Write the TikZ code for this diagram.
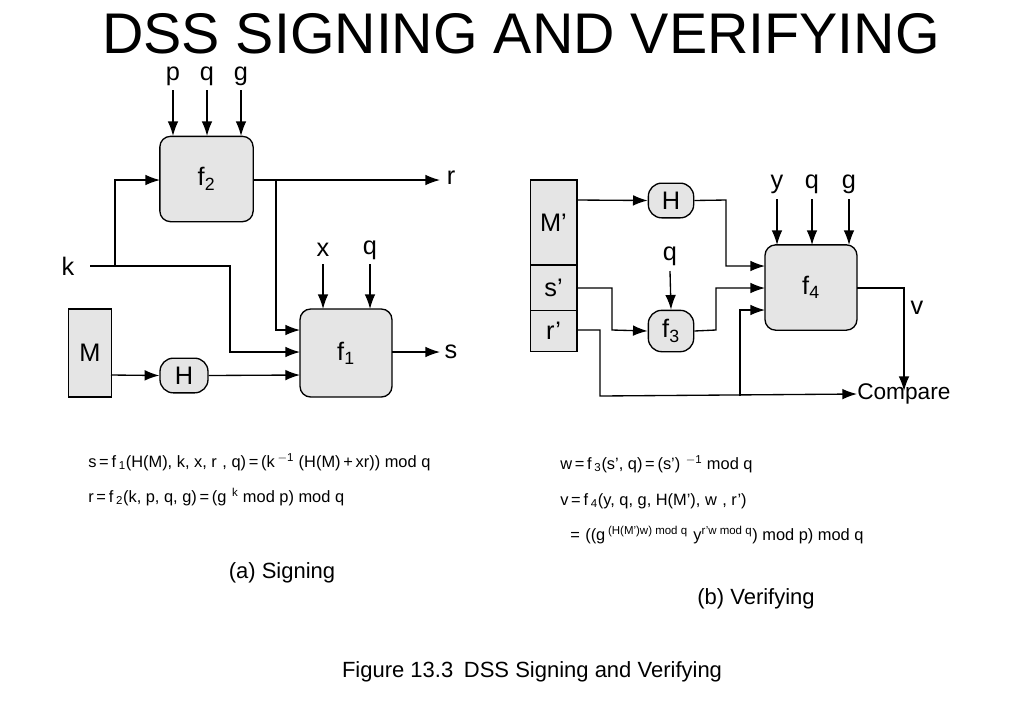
\documentclass[tikz,border=0pt]{standalone}
\usepackage{fontspec}
\setmainfont{Liberation Sans}
\usetikzlibrary{arrows.meta}
\newcommand{\sbx}[1]{\textsubscript{#1}}
\newcommand{\spx}[1]{\textsuperscript{#1}}
\begin{document}
\begin{tikzpicture}[x=0.75pt,y=-0.75pt,
  box/.style={draw,line width=1pt,fill=gray!20,rounded corners=8pt,minimum width=#1},
  sq/.style={draw,line width=1pt,fill=gray!20},
  lab/.style={font=\fontsize{19}{21}\selectfont,inner sep=0pt},
  frm/.style={font=\fontsize{12.3}{14}\selectfont,anchor=west,inner sep=0pt},
  captxt/.style={font=\fontsize{16.5}{18}\selectfont},
  ar/.style={line width=1pt,-{Latex[length=11pt,width=8pt]}},
  ln/.style={line width=1pt}]
\useasboundingbox (0,0) rectangle (1023,708);
\node[font=\fontsize{43}{46}\selectfont] (title) at (521,34) {DSS SIGNING AND VERIFYING};
% ---- signing
\node[box,minimum width=70pt,minimum height=64pt,lab] (f2) at (206.5,179) {f\sbx{2}};
\node[box,minimum width=69pt,minimum height=66pt,lab] (f1) at (346,353) {f\sbx{1}};
\node[sq,minimum width=32pt,minimum height=66pt,lab] (M) at (90,353) {M};
\node[box,rounded corners=10pt,minimum width=36pt,minimum height=26pt,lab] (H1) at (184,375.5) {H};
\foreach \n/\t/\x in {p/p/173,q/q/207,g/g/241}{
  \node[lab] (\n) at (\x,76) {\t};
  \draw[ar] (\x,90) -- (\x,136);}
\node[lab] (xx) at (323,250) {x};
\node[lab] (q2) at (370,250) {q};
\draw[ar] (323,264) -- (323,309);
\draw[ar] (370,264) -- (370,309);
\node[lab] (r) at (451,178) {r};
\node[lab] (s) at (451,352) {s};
\node[lab] (k) at (68,266) {k};
\draw[ar] (253,180) -- (440,180);
\draw[ar] (276,180) -- (276,330) -- (300,330);
\draw[ln] (90,266) -- (115,266);
\draw[ar] (115,266) -- (115,180) -- (160,180);
\draw[ar] (115,266) -- (230,266) -- (230,352) -- (300,352);
\draw[ar] (111,375) -- (H1.west);
\draw[ar] (H1.east) -- (300,375);
\draw[ar] (392,352) -- (440,352);
% ---- verifying
\node[sq,minimum width=35pt,minimum height=64pt,lab,inner sep=0pt] (Mp) at (553.5,222.5) {M'};
\node[sq,minimum width=35pt,minimum height=34pt,lab,inner sep=0pt] (sp) at (553.5,287.5) {s'};
\node[sq,minimum width=35pt,minimum height=31pt,lab,inner sep=0pt] (rp) at (553.5,331) {r'};
\node[box,rounded corners=10pt,minimum width=34pt,minimum height=26pt,lab] (H2) at (671,200.5) {H};
\node[box,rounded corners=10pt,minimum width=34pt,minimum height=31pt,lab] (f3) at (671,331) {f\sbx{3}};
\node[box,minimum width=69pt,minimum height=64pt,lab] (f4) at (811,287.5) {f\sbx{4}};
\foreach \n/\t/\x in {y/y/777,q4/q/812,g4/g/849}{
  \node[lab] (\n) at (\x,184) {\t};
  \draw[ar] (\x,199) -- (\x,245);}
\node[lab] (q3) at (670,256) {q};
\draw[ar] (670,271) -- (f3.north);
\draw[ar] (577,200) -- (H2.west);
\draw[ar] (H2.east) -- (726,200) -- (726,266) -- (765,266);
\draw[ar] (577,288) -- (612,288) -- (612,330) -- (f3.west);
\draw[ar] (f3.east) -- (716,330) -- (716,288) -- (765,288);
\node[font=\fontsize{17}{19}\selectfont,anchor=west,inner sep=0pt] (cmp) at (857,394) {Compare};
\draw[ar] (577,330) -- (600,330) -- (600,396) -- (cmp.west);
\draw[ar] (740,396) -- (740,310) -- (765,310);
\draw[ar] (857,288) -- (904,288) -- (904,391);
\node[lab] (v) at (917,308) {v};
% ---- formulas
\node[frm] (e1) at (88,462) {s\,=\,f\,\sbx{1}(H(M), k, x, r\,\,, q)\,=\,(k\,\spx{$-$1} (H(M)\,+\,xr)) mod q};
\node[frm] (e2) at (88,497) {r\,=\,f\,\sbx{2}(k, p, q, g)\,=\,(g\,\,\spx{k} mod p) mod q};
\node[frm] (e3) at (560,464) {w\,=\,f\,\sbx{3}(s', q)\,=\,(s')\,\,\spx{$-$1} mod q};
\node[frm] (e4) at (560,501) {v\,=\,f\,\sbx{4}(y, q, g, H(M'), w\,\,, r')};
\node[frm] (e5) at (570,535) {=\,\,((g\,\spx{(H(M')w) mod q}\,\,y\spx{r'w mod q}) mod p) mod q};
\node[captxt] (ca) at (282,573) {(a) Signing};
\node[captxt] (cb) at (756,599) {(b) Verifying};
\node[captxt] (fig) at (532,672) {Figure 13.3\hspace{8pt}DSS Signing and Verifying};
\end{tikzpicture}
\end{document}
